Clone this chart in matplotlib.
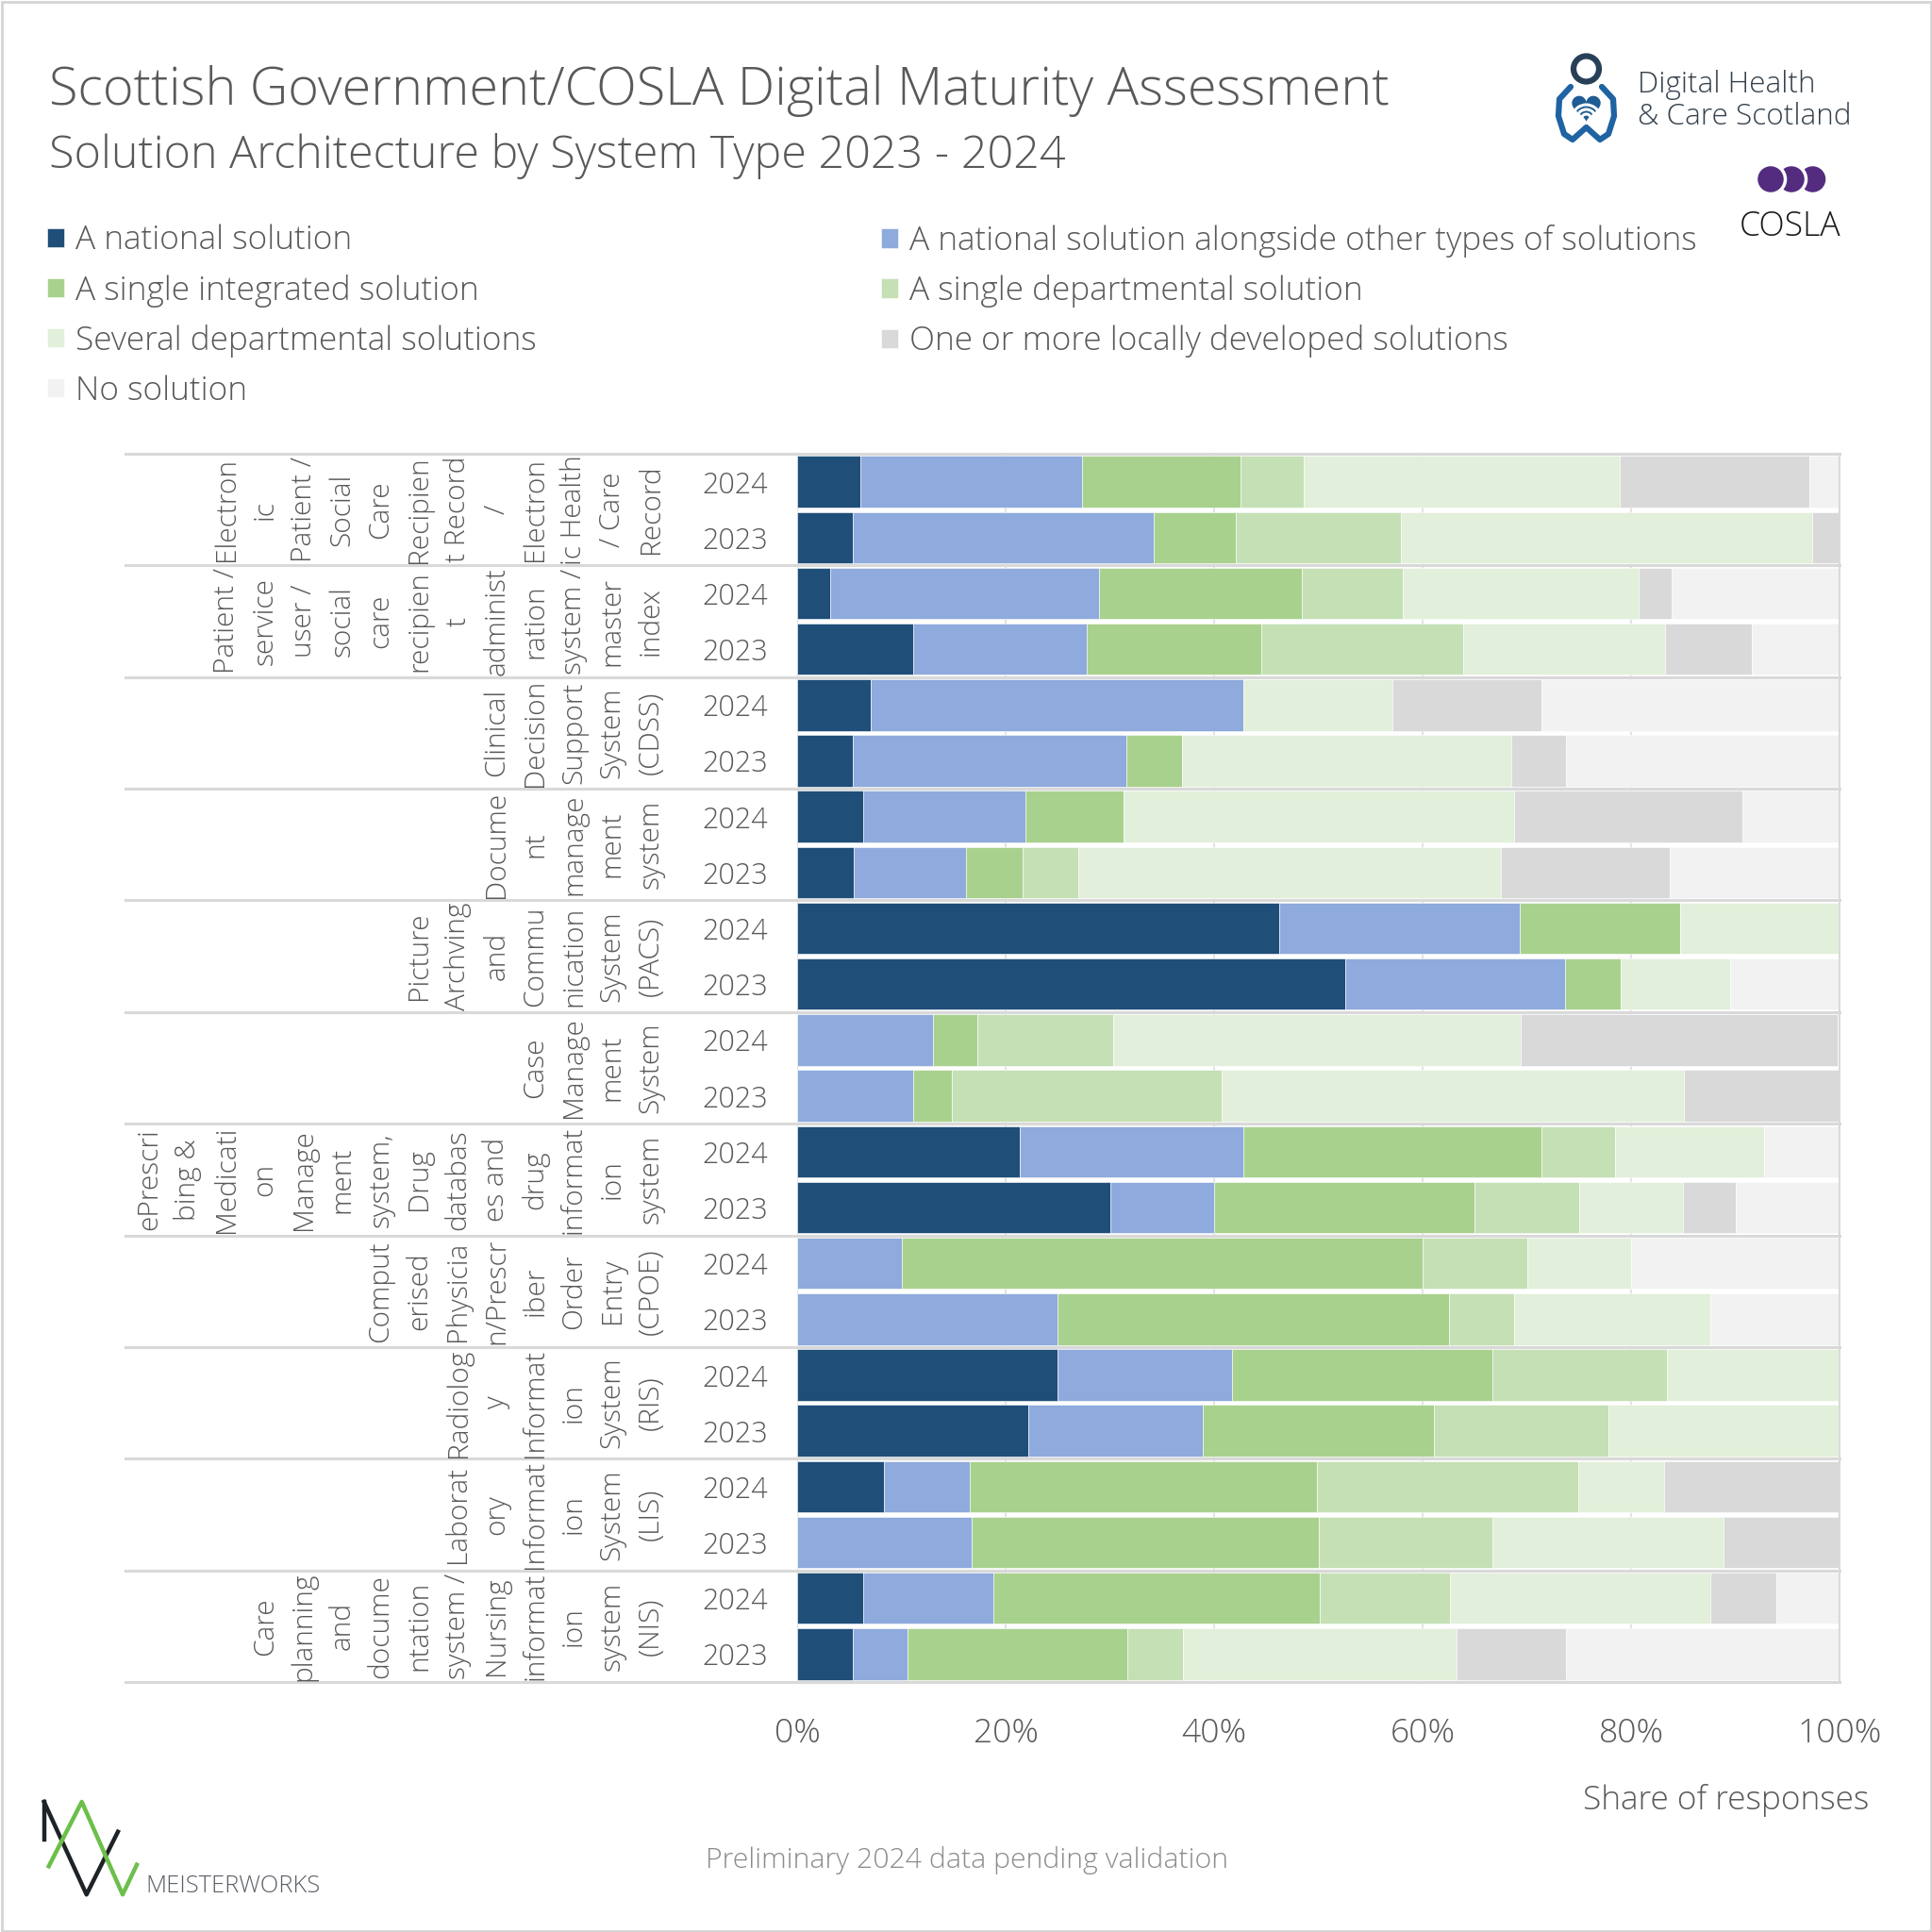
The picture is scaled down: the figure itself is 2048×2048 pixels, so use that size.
import matplotlib
matplotlib.use('Agg')
import matplotlib.pyplot as plt
import matplotlib.transforms as mtransforms
from matplotlib.patches import Rectangle, Circle, Polygon, Arc
import numpy as np

plt.rcParams['font.family'] = ['Open Sans', 'DejaVu Sans']
plt.rcParams['font.weight'] = 'light'

# ---------------- data ----------------
categories = [
    "Electronic Patient / Social Care Recipient Record / Electronic Health / Care Record",
    "Patient / service user / social care recipient administration system / master index",
    "Clinical Decision Support System (CDSS)",
    "Document management system",
    "Picture Archving and Communication System (PACS)",
    "Case Management System",
    "ePrescribing & Medication Management system, Drug databases and drug information system",
    "Computerised Physician/Prescriber Order Entry (CPOE)",
    "Radiology Information System (RIS)",
    "Laboratory Information System (LIS)",
    "Care planning and documentation system / Nursing information system (NIS)",
]
category_lines = [
    ["Electron", "ic", "Patient /", "Social", "Care", "Recipien", "t Record", "/", "Electron", "ic Health", "/ Care", "Record"],
    ["Patient /", "service", "user /", "social", "care", "recipien", "t", "administ", "ration", "system /", "master", "index"],
    ["Clinical", "Decision", "Support", "System", "(CDSS)"],
    ["Docume", "nt", "manage", "ment", "system"],
    ["Picture", "Archving", "and", "Commu", "nication", "System", "(PACS)"],
    ["Case", "Manage", "ment", "System"],
    ["ePrescri", "bing &", "Medicati", "on", "Manage", "ment", "system,", "Drug", "databas", "es and", "drug", "informat", "ion", "system"],
    ["Comput", "erised", "Physicia", "n/Prescr", "iber", "Order", "Entry", "(CPOE)"],
    ["Radiolog", "y", "Informat", "ion", "System", "(RIS)"],
    ["Laborat", "ory", "Informat", "ion", "System", "(LIS)"],
    ["Care", "planning", "and", "docume", "ntation", "system /", "Nursing", "informat", "ion", "system", "(NIS)"],
]
years = ["2024", "2023"]

series_names = [
    "A national solution",
    "A national solution alongside other types of solutions",
    "A single integrated solution",
    "A single departmental solution",
    "Several departmental solutions",
    "One or more locally developed solutions",
    "No solution",
]
# share of responses (%), rows ordered category by category, 2024 then 2023
national = [6.1, 5.3, 3.2, 11.1, 7.1, 5.3, 6.3, 5.4, 46.2, 52.6, 0, 0, 21.4, 30.0, 0, 0, 25.0, 22.2, 8.3, 0, 6.3, 5.3]
alongside = [21.2, 28.9, 25.8, 16.7, 35.7, 26.3, 15.6, 10.8, 23.1, 21.1, 13.0, 11.1, 21.4, 10.0, 10.0, 25.0, 16.7, 16.7, 8.3, 16.7, 12.5, 5.3]
single_integrated = [15.2, 7.9, 19.4, 16.7, 0, 5.3, 9.4, 5.4, 15.4, 5.3, 4.3, 3.7, 28.6, 25.0, 50.0, 37.5, 25.0, 22.2, 33.3, 33.3, 31.3, 21.1]
single_departmental = [6.1, 15.8, 9.7, 19.4, 0, 0, 0, 5.4, 0, 0, 13.0, 25.9, 7.1, 10.0, 10.0, 6.3, 16.7, 16.7, 25.0, 16.7, 12.5, 5.3]
several_departmental = [30.3, 39.5, 22.6, 19.4, 14.3, 31.6, 37.5, 40.5, 15.4, 10.5, 39.1, 44.4, 14.3, 10.0, 10.0, 18.8, 16.7, 22.2, 8.3, 22.2, 25.0, 26.3]
locally_developed = [18.2, 2.6, 3.2, 8.3, 14.3, 5.3, 21.9, 16.2, 0, 0, 30.4, 14.8, 0, 5.0, 0, 0, 0, 0, 16.7, 11.1, 6.3, 10.5]
no_solution = [3.0, 0, 16.1, 8.3, 28.6, 26.3, 9.4, 16.2, 0, 10.5, 0, 0, 7.1, 10.0, 20.0, 12.5, 0, 0, 0, 0, 6.3, 26.3]

series_values = [national, alongside, single_integrated, single_departmental,
                 several_departmental, locally_developed, no_solution]
colors = ["#1F4E79", "#8FAADC", "#A9D18E", "#C5E0B4", "#E2EFDA", "#D9D9D9", "#F2F2F2"]

x_ticks = [0, 20, 40, 60, 80, 100]
x_ticklabels = ["0%", "20%", "40%", "60%", "80%", "100%"]

TXT = "#595959"
W = 2048.0

# ---------------- figure ----------------
fig = plt.figure(figsize=(20.48, 20.48), dpi=100)
fig.patch.set_facecolor("white")

ax = fig.add_axes([845 / W, 1 - 1783 / W, (1950 - 845) / W, (1783 - 481) / W])

n_rows = len(categories) * len(years)
ypos = np.arange(n_rows)
left = np.zeros(n_rows)
handles = []
for name, vals, col in zip(series_names, series_values, colors):
    vals = np.array(vals, dtype=float)
    bc = ax.barh(ypos, vals, left=left, height=0.92, color=col, edgecolor="white",
                 linewidth=0.4, label=name, zorder=2)
    handles.append(bc)
    left += vals

ax.set_xlim(0, 100)
ax.set_ylim(n_rows - 0.5, -0.5)
ax.set_xticks(x_ticks)
ax.set_xticklabels(x_ticklabels)
ax.set_yticks(ypos)
ax.set_yticklabels(years * len(categories))
ax.tick_params(axis="x", length=0, pad=27, labelsize=25.5, labelcolor=TXT)
ax.tick_params(axis="y", length=0, pad=22, labelsize=22, labelcolor=TXT)
ax.xaxis.grid(True, color="#E3E3E3", linewidth=1.5, zorder=0)
ax.set_axisbelow(True)
for s in ["top", "bottom", "left"]:
    ax.spines[s].set_visible(False)
ax.spines["right"].set_color("#DADADA")
ax.spines["right"].set_linewidth(1.5)

# group separators spanning label area
blend = mtransforms.blended_transform_factory(fig.transFigure, ax.transData)
for g in range(len(categories) + 1):
    yb = 2 * g - 0.5
    ax.plot([133 / W, 1950 / W], [yb, yb], transform=blend, color="#D9D9D9",
            linewidth=2.2, clip_on=False, zorder=3)

# category labels: rotated wrapped lines
last_x = 690 / W
step = 40.9 / W
for g, lines in enumerate(category_lines):
    yc = 2 * g + 0.5
    n = len(lines)
    for i, ln in enumerate(lines):
        xx = last_x - (n - 1 - i) * step
        ax.text(xx, yc, ln, transform=blend, rotation=90, ha="center", va="center",
                fontsize=21.5, color=TXT, clip_on=False)

# titles
fig.text(52 / W, 1 - 111 / W, "Scottish Government/COSLA Digital Maturity Assessment",
         fontsize=40.2, color=TXT, va="baseline", ha="left")
fig.text(52 / W, 1 - 178 / W, "Solution Architecture by System Type 2023 - 2024",
         fontsize=34.9, color=TXT, va="baseline", ha="left")

# legend (two columns)
col1 = [0, 2, 4, 6]
col2 = [1, 3, 5]
lkw = dict(frameon=False, fontsize=25.4, handlelength=0.51, handleheight=0.51,
           handletextpad=0.33, labelspacing=0.515, borderpad=0, borderaxespad=0,
           loc="upper left", labelcolor=TXT)
leg1 = fig.legend([handles[i] for i in col1], [series_names[i] for i in col1],
                  bbox_to_anchor=(50 / W, 1 - 238 / W), **lkw)
leg2 = fig.legend([handles[i] for i in col2], [series_names[i] for i in col2],
                  bbox_to_anchor=(934 / W, 1 - 238 / W), **lkw)

# axis title and footnote
fig.text(1981 / W, 1 - 1908 / W, "Share of responses", fontsize=25.4, color=TXT,
         ha="right", va="center")
fig.text(1025 / W, 1 - 1972 / W, "Preliminary 2024 data pending validation", fontsize=21.8,
         color="#8C8C8C", ha="center", va="center")

# ---------------- decorations (logos, border) ----------------
deco = fig.add_axes([0, 0, 1, 1], zorder=-1)
deco.set_xlim(0, W)
deco.set_ylim(W, 0)
deco.axis("off")
deco.add_patch(Rectangle((1.5, 1.5), W - 3, W - 3, fill=False, edgecolor="#D4D4D4", lw=2))

# Digital Health & Care Scotland logo
deco.add_patch(Circle((1681.5, 73), 13.5, fill=False, edgecolor="#283F58", lw=4.5))
body = [(1665, 92), (1653, 105), (1652, 123), (1658, 142), (1667, 148), (1681.5, 135),
        (1696, 148), (1705, 142), (1711, 123), (1710, 105), (1698, 92)]
bx, by = zip(*body)
deco.plot(bx, by, color="#1F63A3", lw=4.5, solid_capstyle="round", solid_joinstyle="round")
t = np.linspace(0, 2 * np.pi, 200)
hx = 16 * np.sin(t) ** 3
hy = 13 * np.cos(t) - 5 * np.cos(2 * t) - 2 * np.cos(3 * t) - np.cos(4 * t)
deco.add_patch(Polygon(np.column_stack([1681.5 + hx * 0.95, 113 - hy * 0.95]), closed=True,
                       facecolor="#1F5C93", edgecolor="none"))
for r in (5, 10, 15):
    deco.add_patch(Arc((1681.5, 126), 2 * r, 2 * r, theta1=200, theta2=340, color="white", lw=2.2))
fig.text(1736 / W, 1 - 90 / W, "Digital Health", fontsize=22.7, color="#34404C", va="center", ha="left")
fig.text(1736 / W, 1 - 124 / W, "& Care Scotland", fontsize=22.7, color="#34404C", va="center", ha="left")

# COSLA logo
for cx in (1921.5, 1899, 1877):
    deco.add_patch(Circle((cx, 190), 15.5, facecolor="#532C80", edgecolor="white", lw=2.5))
fig.text(1898 / W, 1 - 241 / W, "COSLA", fontsize=25.7, color="#1A1A1A", va="center", ha="center")

# Meisterworks logo
deco.plot([46.7, 46.7], [1950, 1910], color="#1E2328", lw=3.2)
deco.plot([46.7, 91.7, 125], [1910, 2008.3, 1941.7], color="#1E2328", lw=3.2)
deco.plot([51.7, 86.7, 130, 145], [1978.3, 1910, 2008.3, 1976.7], color="#6CBF4A", lw=3.2)
fig.text(154 / W, 1 - 1999 / W, "MEISTERWORKS", fontsize=18.4, color="#5A5F66", va="center", ha="left")

fig.savefig("out.png", dpi=100, facecolor="white")
